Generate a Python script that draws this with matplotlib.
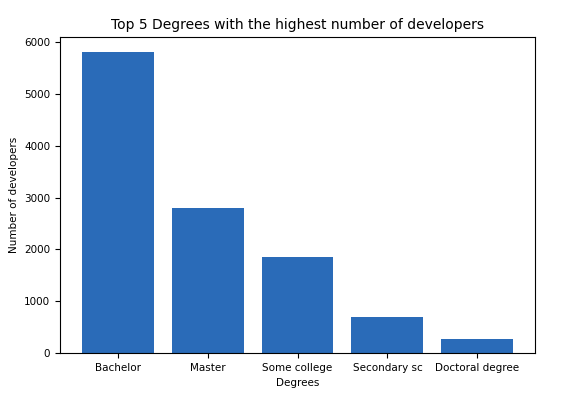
import matplotlib
matplotlib.use("Agg")
import matplotlib.pyplot as plt

degrees = ["Bachelor", "Master", "Some college", "Secondary sc", "Doctoral degree"]
counts = [5810, 2800, 1855, 695, 270]

fig = plt.figure(figsize=(5.84, 4.01), dpi=100)
ax = fig.add_axes([60/584, 1-353/401, 475/584, 316/401])
ax.bar(degrees, counts, color="#2a6bb8")
ax.set_title("Top 5 Degrees with the highest number of developers", fontsize=10)
ax.set_xlabel("Degrees", fontsize=7.5)
ax.set_ylabel("Number of developers", fontsize=7.5)
ax.tick_params(labelsize=7.5)
ax.set_ylim(0, 6100)
fig.savefig("out.png", dpi=100)
